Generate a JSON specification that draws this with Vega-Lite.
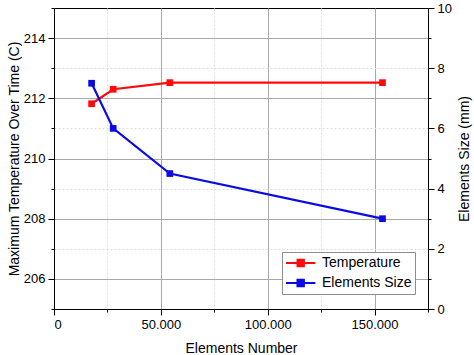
{
  "$schema": "https://vega.github.io/schema/vega-lite/v6.json",
  "width": 374,
  "height": 301,
  "autosize": {"type": "none"},
  "padding": {"left": 54, "top": 8, "right": 46, "bottom": 46},
  "config": {
    "view": {"stroke": "black", "strokeWidth": 1},
    "font": "Liberation Sans",
    "axis": {
      "domainColor": "black",
      "tickColor": "black",
      "labelColor": "black",
      "titleColor": "black",
      "labelFontSize": 13,
      "titleFontSize": 14,
      "titleFontWeight": "normal",
      "labelFont": "Liberation Sans",
      "titleFont": "Liberation Sans"
    }
  },
  "data": {
    "values": [
      {"n": 17600, "series": "Temperature", "value": 211.82},
      {"n": 27700, "series": "Temperature", "value": 212.3},
      {"n": 54200, "series": "Temperature", "value": 212.52},
      {"n": 153700, "series": "Temperature", "value": 212.52},
      {"n": 17600, "series": "Elements Size", "value": 7.5},
      {"n": 27700, "series": "Elements Size", "value": 6.0},
      {"n": 54200, "series": "Elements Size", "value": 4.5},
      {"n": 153700, "series": "Elements Size", "value": 3.0}
    ]
  },
  "encoding": {
    "x": {
      "field": "n",
      "type": "quantitative",
      "scale": {"domain": [0, 175000], "nice": false, "zero": false},
      "axis": {
        "title": "Elements Number",
        "titleFontWeight": "normal",
        "values": [0, 25000, 50000, 75000, 100000, 125000, 150000, 175000],
        "labelExpr": "datum.value % 50000 === 0 && datum.value < 175000 ? replace(format(datum.value, ','), ',', '.') : ''",
        "labelOverlap": false,
        "labelPadding": 3,
        "titlePadding": 10,
        "tickSize": {"condition": {"test": "datum.value % 50000 === 0", "value": 6}, "value": 3},
        "grid": true,
        "gridColor": {"condition": {"test": "datum.value % 50000 === 0", "value": "#a8a8a8"}, "value": "#dcdcdc"},
        "gridDash": {"condition": {"test": "datum.value % 50000 === 0", "value": []}, "value": [2, 2]},
        "gridOpacity": {"condition": {"test": "datum.value <= 0 || datum.value >= 175000", "value": 0}, "value": 1}
      }
    },
    "color": {
      "field": "series",
      "type": "nominal",
      "scale": {"domain": ["Temperature", "Elements Size"], "range": ["#ff0a0a", "#0a0ae6"]},
      "legend": {
        "title": null,
        "orient": "none",
        "legendX": 228,
        "legendY": 244,
        "fillColor": "white",
        "strokeColor": "#8c8c8c",
        "padding": 3,
        "labelFontSize": 14,
        "labelFont": "Liberation Sans",
        "labelColor": "black",
        "symbolType": "M-1,0H3.2M0.64,-0.46H1.56V0.46H0.64Z",
        "symbolSize": 196,
        "symbolStrokeWidth": 2,
        "labelOffset": 21,
        "rowPadding": 4,
        "encode": {
          "symbols": {"update": {"fill": {"scale": "color", "field": "value"}, "fillOpacity": {"value": 1}}}
        }
      }
    }
  },
  "layer": [
    {
      "transform": [{"filter": "datum.series === 'Temperature'"}],
      "encoding": {
        "y": {
          "field": "value",
          "type": "quantitative",
          "scale": {"domain": [205, 215], "nice": false, "zero": false},
          "axis": {
            "orient": "left",
            "title": "Maximum Temperature Over Time (C)",
            "values": [205, 206, 207, 208, 209, 210, 211, 212, 213, 214, 215],
            "labelExpr": "datum.value % 2 === 0 ? datum.label : ''",
            "labelOverlap": false,
            "labelPadding": 3,
            "titlePadding": 2,
            "tickSize": {"condition": {"test": "datum.value % 2 === 0", "value": 6}, "value": 3},
            "grid": true,
            "gridColor": {"condition": {"test": "datum.value % 2 === 0", "value": "#a8a8a8"}, "value": "#dcdcdc"},
            "gridDash": {"condition": {"test": "datum.value % 2 === 0", "value": []}, "value": [2, 2]},
            "gridOpacity": {"condition": {"test": "datum.value <= 205 || datum.value >= 215", "value": 0}, "value": 1}
          }
        }
      },
      "layer": [
        {"mark": {"type": "line", "strokeWidth": 2.2}},
        {"mark": {"type": "point", "shape": "square", "filled": true, "size": 45, "opacity": 1}}
      ]
    },
    {
      "transform": [{"filter": "datum.series === 'Elements Size'"}],
      "encoding": {
        "y": {
          "field": "value",
          "type": "quantitative",
          "scale": {"domain": [0, 10], "nice": false, "zero": false},
          "axis": {
            "orient": "right",
            "title": "Elements Size (mm)",
            "titleAngle": 270,
            "values": [0, 1, 2, 3, 4, 5, 6, 7, 8, 9, 10],
            "labelExpr": "datum.value % 2 === 0 ? datum.label : ''",
            "labelOverlap": false,
            "labelPadding": 3,
            "titlePadding": 20,
            "tickSize": {"condition": {"test": "datum.value % 2 === 0", "value": 6}, "value": 3},
            "grid": false
          }
        }
      },
      "layer": [
        {"mark": {"type": "line", "strokeWidth": 2.2}},
        {"mark": {"type": "point", "shape": "square", "filled": true, "size": 45, "opacity": 1}}
      ]
    }
  ],
  "resolve": {"scale": {"y": "independent"}}
}
